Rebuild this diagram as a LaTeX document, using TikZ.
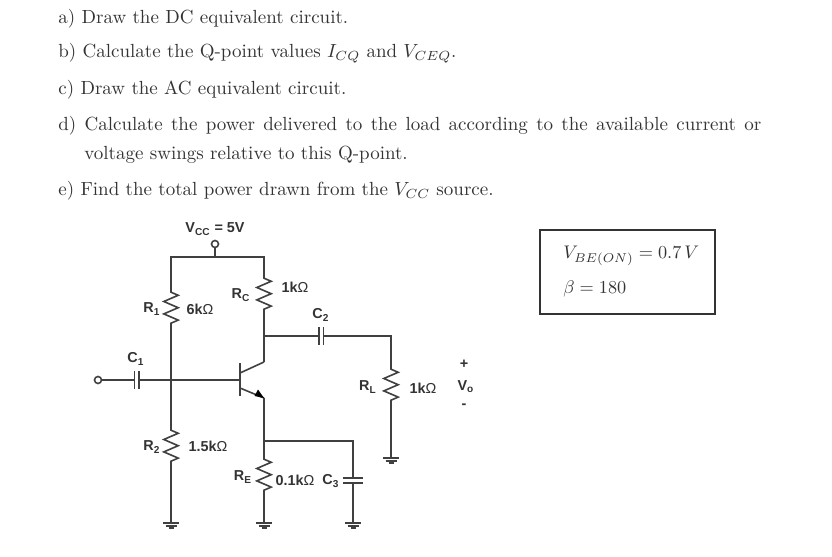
\documentclass[tikz,border=0pt]{standalone}
\usepackage{fontspec}
\usetikzlibrary{decorations.pathmorphing}
\newfontfamily\lab{Liberation Sans}
\tikzset{
    wire/.style={draw=black!75, line width=0.8pt},
    res/.style={wire, decoration={zigzag, segment length=6.2pt, amplitude=3.6pt, pre length=0.1pt, post length=0.1pt}, decorate},
    lab/.style={font=\lab\bfseries\fontsize{7.2}{8}\selectfont, text=black!80, inner sep=0pt},
    task/.style={anchor=west, inner sep=0pt, text=black!80, scale=0.95, transform shape},
    gnd/.pic={
        \draw[wire, line width=1pt] (-8,0) -- (8,0);
        \draw[wire, line width=1pt] (-5.5,2.7) -- (5.5,2.7);
        \draw[wire, line width=1pt] (-2.5,5.4) -- (2.5,5.4);
    }
}
\newcommand{\sub}[1]{\textsubscript{#1}}
\newcommand{\ohm}{{\mdseries Ω}}
\begin{document}
\begin{tikzpicture}[x=0.5pt, y=-0.5pt]
        \useasboundingbox (0,0) rectangle (832,557);
        % questions
        \node[task] (qa) at (58,18.5) {a) Draw the DC equivalent circuit.};
        \node[task] (qb) at (58,53.5) {b) Calculate the Q-point values $I_{CQ}$ and $V_{CEQ}$.};
        \node[task] (qc) at (58,89.5) {c) Draw the AC equivalent circuit.};
        \node[task] (qd) at (58,125.5) {\makebox[370pt][s]{d) Calculate the power delivered to the load according to the available current or}};
        \node[task] (qd2) at (84,154.5) {voltage swings relative to this Q-point.};
        \node[task] (qe) at (58,190.5) {e) Find the total power drawn from the $V_{CC}$ source.};
        % given values
        \node[draw=black!80, line width=0.7pt, minimum width=87.5pt, minimum height=42pt, inner sep=0pt] (given) at (627.5,272) {};
        \node[task, scale=0.96] (vbe) at (563,256) {$V_{BE(ON)}=0.7\,V$};
        \node[task, scale=0.96] (beta) at (563,288.5) {$\beta=180$};
        % points of the circuit
        \coordinate (c1a) at (134.5,380);
        \coordinate (c1b) at (139,380);
        \coordinate (jb) at (171,380);
        \coordinate (base) at (240,380);
        \coordinate (railm) at (215,257);
        \coordinate (raill) at (171,257);
        \coordinate (railr) at (264,257);
        \coordinate (r1t) at (171,292);
        \coordinate (r1b) at (171,328);
        \coordinate (rct) at (264,278);
        \coordinate (rcb) at (264,314);
        \coordinate (jc) at (264,336);
        \coordinate (coll) at (264,362);
        \coordinate (emit) at (264,398);
        \coordinate (je) at (264,441);
        \coordinate (r2t) at (171,430);
        \coordinate (r2b) at (171,465);
        \coordinate (g2) at (171,523);
        \coordinate (ret) at (264,459);
        \coordinate (reb) at (264,495);
        \coordinate (ge) at (264,523);
        \coordinate (c3r) at (353,441);
        \coordinate (c3a) at (353,478);
        \coordinate (c3b) at (353,483);
        \coordinate (g3) at (353,523);
        \coordinate (c2a) at (319,336);
        \coordinate (c2b) at (323.5,336);
        \coordinate (rlr) at (391,336);
        \coordinate (rlt) at (391,369);
        \coordinate (rlb) at (391,406);
        \coordinate (gl) at (391,458);
        \node[circle, wire, minimum size=3.5pt, inner sep=0pt] (vcc) at (215,244) {};
        \node[circle, wire, minimum size=3.5pt, inner sep=0pt] (inp) at (98,380) {};
        % wires
        \draw[wire] (vcc) -- (railm);
        \draw[wire] (r1t) -- (raill) -- (railr) -- (rct);
        \draw[res] (r1t) -- (r1b);
        \draw[res] (rct) -- (rcb);
        \draw[wire] (rcb) -- (jc) -- (coll);
        \draw[wire] (inp) -- (c1a);
        \draw[wire] (c1b) -- (base);
        \draw[wire] (r1b) -- (jb) -- (r2t);
        \draw[res] (r2t) -- (r2b);
        \draw[wire] (r2b) -- (g2);
        \draw[wire] (emit) -- (ret);
        \draw[res] (ret) -- (reb);
        \draw[wire] (reb) -- (ge);
        \draw[wire] (je) -- (c3r) -- (c3a);
        \draw[wire] (c3b) -- (g3);
        \draw[wire] (jc) -- (c2a);
        \draw[wire] (c2b) -- (rlr) -- (rlt);
        \draw[res] (rlt) -- (rlb);
        \draw[wire] (rlb) -- (gl);
        % capacitors
        \draw[wire] (134.5,371) -- (134.5,389);
        \draw[wire] (139,371) -- (139,389);
        \draw[wire] (319,327) -- (319,345);
        \draw[wire] (323.5,327) -- (323.5,345);
        \draw[wire] (343,478) -- (363,478);
        \draw[wire] (343,483) -- (363,483);
        % transistor
        \draw[wire, line width=1pt] (240,363) -- (240,396);
        \draw[wire] (240,373) -- (coll);
        \draw[wire] (240,388) -- (emit);
        \fill[black] (264,398) -- (254.5,396) -- (258,389.5) -- cycle;
        % grounds
        \pic at (g2) {gnd};
        \pic at (ge) {gnd};
        \pic at (g3) {gnd};
        \pic at (gl) {gnd};
        % labels
        \node[lab] (lvcc) at (215,229) {V\sub{CC} = 5V};
        \node[lab] (lr1) at (152,309) {R\sub{1}};
        \node[lab] (l6k) at (200,309) {6k\ohm};
        \node[lab] (lrc) at (241,295) {R\sub{C}};
        \node[lab] (l1k) at (295,287) {1k\ohm};
        \node[lab] (lc1) at (136,359) {C\sub{1}};
        \node[lab] (lc2) at (321,315) {C\sub{2}};
        \node[lab] (lr2) at (152,447) {R\sub{2}};
        \node[lab] (l15k) at (208,446) {1.5k\ohm};
        \node[lab] (lre) at (243,477) {R\sub{E}};
        \node[lab] (l01k) at (295,480) {0.1k\ohm};
        \node[lab] (lc3) at (331,481) {C\sub{3}};
        \node[lab] (lrl) at (368,387) {R\sub{L}};
        \node[lab] (l1kl) at (423,388) {1k\ohm};
        \node[lab] (plus) at (464,364) {+};
        \node[lab] (vo) at (466,387) {V\sub{o}};
        \node[lab] (minus) at (464,406) {-};
    \end{tikzpicture}
\end{document}
